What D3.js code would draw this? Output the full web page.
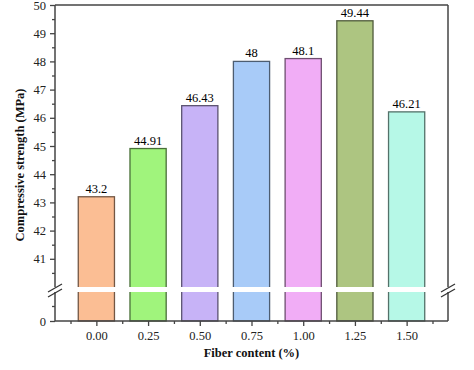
<!DOCTYPE html>
<html>
<head>
<meta charset="utf-8">
<script src="https://cdn.jsdelivr.net/npm/d3@7"></script>
<style>
  body { margin: 0; background: #fff; }
  svg { display: block; font-family: "Liberation Serif", "Times New Roman", serif; }
</style>
</head>
<body>
<svg width="474" height="370"></svg>
<script>
// data
var fiber = [0.00, 0.25, 0.50, 0.75, 1.00, 1.25, 1.50];
var strength = [43.2, 44.91, 46.43, 48, 48.1, 49.44, 46.21];
var valueLabels = ["43.2", "44.91", "46.43", "48", "48.1", "49.44", "46.21"];
var barColors = ["#fbbe94", "#a0f47c", "#c7b3f7", "#a8cbf8", "#f1adf6", "#adc581", "#b6f8e7"];
var yMajorUpper = [41, 42, 43, 44, 45, 46, 47, 48, 49, 50];
var yMinorUpper = [40.5, 41.5, 42.5, 43.5, 44.5, 45.5, 46.5, 47.5, 48.5, 49.5];
var xMinor = [-0.125, 0.125, 0.375, 0.625, 0.875, 1.125, 1.375, 1.625];

var LEFT = 55, RIGHT = 448, TOP = 5, BOTTOM = 321;
var BREAK_TOP = 287, BREAK_BOT = 292;
var BAR_W = 0.175;
var AXIS_COLOR = "#444";

var svg = d3.select("svg");

var x = d3.scaleLinear().domain([-0.2, 1.7]).range([LEFT, RIGHT]);
// upper (broken) segment and lower segment of the y axis
var yTop = d3.scaleLinear().domain([40, 50]).range([BREAK_TOP, TOP]);
var yBot = d3.scaleLinear().domain([0, 2]).range([BOTTOM, 291]);

// bars
var bw = x(BAR_W) - x(0);
svg.append("g").selectAll("rect")
  .data(fiber)
  .enter().append("rect")
  .attr("x", function(d) { return x(d) - bw / 2; })
  .attr("y", function(d, i) { return yTop(strength[i]); })
  .attr("width", bw)
  .attr("height", function(d, i) { return yBot(0) - yTop(strength[i]); })
  .attr("fill", function(d, i) { return barColors[i]; })
  .attr("stroke", function(d, i) { return d3.color(barColors[i]).darker(2.2); })
  .attr("stroke-width", 1.3);

// value labels
svg.append("g").selectAll("text")
  .data(fiber)
  .enter().append("text")
  .attr("x", function(d) { return x(d); })
  .attr("y", function(d, i) { return yTop(strength[i]) - 4; })
  .attr("text-anchor", "middle")
  .attr("font-size", 12.5)
  .attr("fill", "#000")
  .text(function(d, i) { return valueLabels[i]; });

// frame
var frame = svg.append("g").attr("stroke", AXIS_COLOR).attr("stroke-width", 1.5).attr("fill", "none");
frame.append("line").attr("x1", LEFT).attr("x2", RIGHT).attr("y1", TOP).attr("y2", TOP);
frame.append("line").attr("x1", RIGHT).attr("x2", RIGHT).attr("y1", TOP).attr("y2", BOTTOM);
frame.append("line").attr("x1", LEFT).attr("x2", LEFT).attr("y1", TOP).attr("y2", BOTTOM);
frame.append("line").attr("x1", LEFT).attr("x2", RIGHT).attr("y1", BOTTOM).attr("y2", BOTTOM);

// y axes
function styleAxis(g) {
  g.select(".domain").remove();
  g.selectAll("line").attr("stroke", AXIS_COLOR).attr("stroke-width", 1.3);
  g.selectAll("text").attr("font-size", 12.5).attr("fill", "#222")
    .attr("font-family", "Liberation Serif, serif");
}

svg.append("g").attr("transform", "translate(" + LEFT + ",0)")
  .call(d3.axisLeft(yTop).tickValues(yMajorUpper).tickSize(5).tickPadding(4).tickFormat(d3.format("d")))
  .call(styleAxis);
svg.append("g").attr("transform", "translate(" + LEFT + ",0)")
  .call(d3.axisLeft(yTop).tickValues(yMinorUpper).tickSize(3).tickFormat(""))
  .call(styleAxis);
svg.append("g").attr("transform", "translate(" + LEFT + ",0)")
  .call(d3.axisLeft(yBot).tickValues([0]).tickSize(5).tickPadding(4).tickFormat(d3.format("d")))
  .call(styleAxis);
svg.append("g").attr("transform", "translate(" + LEFT + ",0)")
  .call(d3.axisLeft(yBot).tickValues([1]).tickSize(3).tickFormat(""))
  .call(styleAxis);

// x axis
svg.append("g").attr("transform", "translate(0," + BOTTOM + ")")
  .call(d3.axisBottom(x).tickValues(fiber).tickSize(5).tickPadding(5).tickFormat(d3.format(".2f")))
  .call(styleAxis);
svg.append("g").attr("transform", "translate(0," + BOTTOM + ")")
  .call(d3.axisBottom(x).tickValues(xMinor).tickSize(3).tickFormat(""))
  .call(styleAxis);

// axis break: white stripe plus slashes
svg.append("rect")
  .attr("x", LEFT - 2).attr("y", BREAK_TOP)
  .attr("width", RIGHT - LEFT + 4).attr("height", BREAK_BOT - BREAK_TOP)
  .attr("fill", "#fff");

var brk = svg.append("g").attr("stroke", "#333").attr("stroke-width", 1.3);
[LEFT, RIGHT].forEach(function(cx) {
  brk.append("line").attr("x1", cx - 7).attr("y1", BREAK_TOP + 5).attr("x2", cx + 7).attr("y2", BREAK_TOP - 3);
  brk.append("line").attr("x1", cx - 7).attr("y1", BREAK_BOT + 5).attr("x2", cx + 7).attr("y2", BREAK_BOT - 3);
});

// axis titles
svg.append("text")
  .attr("x", x(0.75)).attr("y", 357)
  .attr("text-anchor", "middle")
  .attr("font-size", 12.5).attr("font-weight", "bold").attr("fill", "#111")
  .text("Fiber content (%)");

svg.append("text")
  .attr("transform", "translate(24,165) rotate(-90)")
  .attr("text-anchor", "middle")
  .attr("font-size", 12.5).attr("font-weight", "bold").attr("fill", "#111")
  .text("Compressive strength (MPa)");
</script>
</body>
</html>
